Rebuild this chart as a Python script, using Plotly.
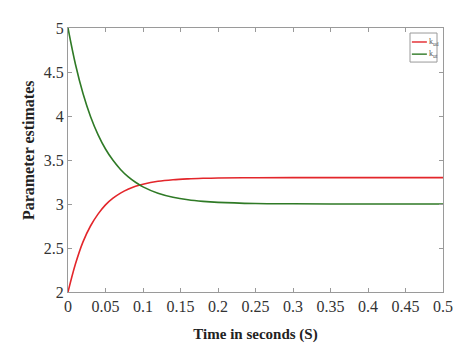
import plotly.graph_objects as go

t = [0, 0.01, 0.02, 0.03, 0.04, 0.05, 0.06, 0.07, 0.08, 0.09, 0.10,
     0.12, 0.14, 0.16, 0.18, 0.20, 0.25, 0.30, 0.35, 0.40, 0.45, 0.50]
k_ud = [2.0, 2.32, 2.57, 2.75, 2.885, 2.99, 3.066, 3.124, 3.168, 3.201, 3.225,
        3.258, 3.276, 3.286, 3.292, 3.296, 3.299, 3.3, 3.3, 3.3, 3.3, 3.3]
k_ut = [5.0, 4.585, 4.256, 3.995, 3.789, 3.625, 3.496, 3.393, 3.311, 3.247, 3.195,
        3.123, 3.077, 3.048, 3.030, 3.019, 3.006, 3.002, 3.0, 3.0, 3.0, 3.0]

series_names = ["k<sub>ud</sub>", "k<sub>ut</sub>"]
series_colors = ["#e3262b", "#2f7a26"]

x_ticks = [0, 0.05, 0.1, 0.15, 0.2, 0.25, 0.3, 0.35, 0.4, 0.45, 0.5]
x_labels = ["0", "0.05", "0.1", "0.15", "0.2", "0.25", "0.3", "0.35", "0.4", "0.45", "0.5"]
y_ticks = [2, 2.5, 3, 3.5, 4, 4.5, 5]
y_labels = ["2", "2.5", "3", "3.5", "4", "4.5", "5"]

serif = "Liberation Serif, DejaVu Serif, serif"
grey = "#9a9a9a"

fig = go.Figure()
for ys, nm, col in zip([k_ud, k_ut], series_names, series_colors):
    fig.add_trace(go.Scatter(x=t, y=ys, mode="lines", name=nm, showlegend=False,
                             line=dict(color=col, width=1.6, shape="spline")))

axis_common = dict(showline=True, linecolor=grey, linewidth=1, mirror="ticks",
                   ticks="inside", ticklen=4, tickcolor=grey, showgrid=False,
                   zeroline=False, tickfont=dict(family=serif, size=16, color="#333"))

fig.update_xaxes(range=[0, 0.5], tickvals=x_ticks, ticktext=x_labels,
                 title=dict(text="<b>Time in seconds (S)</b>",
                            font=dict(family=serif, size=15, color="#222"), standoff=14),
                 **axis_common)
fig.update_yaxes(range=[2, 5], tickvals=y_ticks, ticktext=y_labels, **axis_common)

# compact legend box (top right)
shapes = [dict(type="rect", xref="paper", yref="paper", x0=0.912, x1=0.984,
               y0=0.871, y1=0.981, line=dict(color=grey, width=1), fillcolor="white")]
annotations = [dict(xref="paper", yref="paper", x=-0.107, y=0.537,
                    text="<b>Parameter estimates</b>", textangle=-90, showarrow=False,
                    xanchor="center", yanchor="middle",
                    font=dict(family=serif, size=16, color="#222"))]
for i, (nm, col) in enumerate(zip(series_names, series_colors)):
    yy = 0.947 - i * 0.046
    shapes.append(dict(type="line", xref="paper", yref="paper", x0=0.917, x1=0.957,
                       y0=yy, y1=yy, line=dict(color=col, width=1.4)))
    annotations.append(dict(xref="paper", yref="paper", x=0.958, y=yy, text=nm,
                            showarrow=False, xanchor="left", yanchor="middle",
                            font=dict(family=serif, size=8, color="#555")))

fig.update_layout(
    width=466, height=348,
    margin=dict(l=60, r=31, t=20, b=64),
    paper_bgcolor="white", plot_bgcolor="white",
    shapes=shapes, annotations=annotations,
)

fig.write_html("out.html")
